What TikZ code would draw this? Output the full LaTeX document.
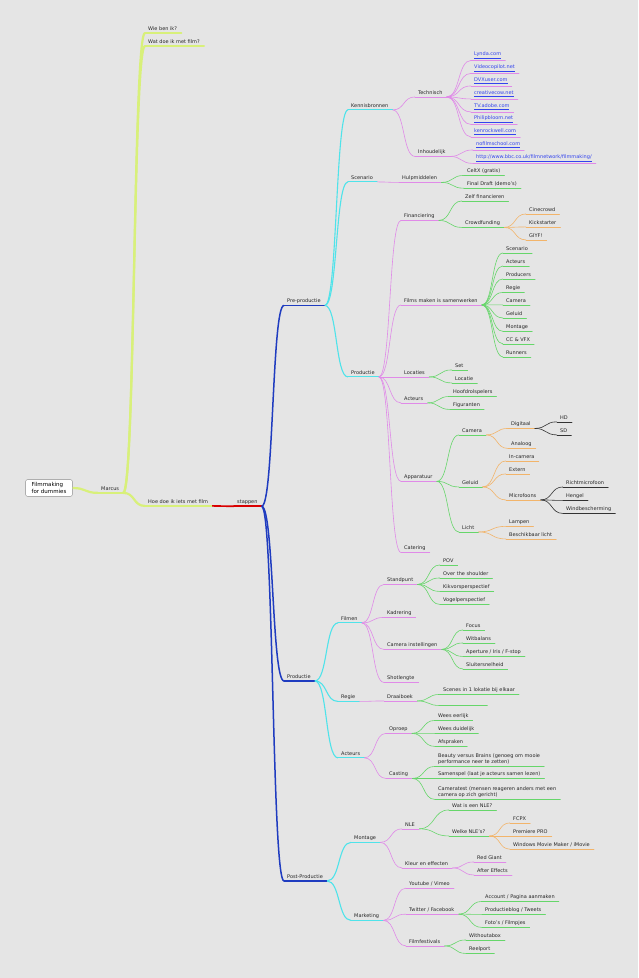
\documentclass[tikz,border=0pt]{standalone}
\usepackage{fontspec}
\setmainfont{DejaVu Sans}
\usetikzlibrary{calc}
\definecolor{cyn}{HTML}{4FE3EA}
\definecolor{blu}{HTML}{1F3CC0}
\definecolor{yel}{HTML}{D8F07A}
\definecolor{pnk}{HTML}{E08AE8}
\definecolor{grn}{HTML}{66D66A}
\definecolor{org}{HTML}{F2B46A}
\definecolor{lnk}{HTML}{3344EE}
\begin{document}
\begin{tikzpicture}[x=1pt,y=-1pt,
  lbl/.style={inner sep=0pt,anchor=west,font=\fontsize{5}{6}\selectfont,align=left,text=black!85},
  cY/.style={draw=yel,line width=2.2pt},
  cR/.style={draw=red!85!black,line width=1.6pt},
  cB/.style={draw=blu,line width=1.5pt},
  cC/.style={draw=cyn,line width=1.1pt},
  cP/.style={draw=pnk,line width=0.6pt},
  cG/.style={draw=grn,line width=0.6pt},
  cO/.style={draw=org,line width=0.6pt},
  cK/.style={draw=black!80,line width=0.6pt}]
\useasboundingbox[fill=black!10] (0,0) rectangle (638,978);
\newcommand\NN[6]{%
  \node[lbl] (#1) at (#3,#4) {#6};
  \coordinate (#1-s) at ([xshift=-3pt,yshift=-1.8pt]#1.south west);
  \coordinate (#1-e) at ([xshift=4pt,yshift=-1.8pt]#1.south east);
  \draw[#5] let \p1=(#2-e), \p2=(#1-s), \n1={(\x2-\x1)*0.55} in
    (#2-e) .. controls ([xshift=\n1]#2-e) and ([xshift=-\n1]#1-s) .. (#1-s);
  \draw[#5,line cap=round] (#1-s) -- (#1-e);}
\newcommand\LK[1]{\textcolor{lnk}{\underline{#1}}}
\node[draw=black!45,fill=white,rounded corners=2pt,inner xsep=6pt,inner ysep=3pt,align=left,font=\fontsize{5.5}{6.5}\selectfont] (root) at (49,488) {Filmmaking\\for dummies};
\coordinate (root-e) at (root.east);
\NN{marcus}{root}{101}{489}{cY}{Marcus}
\NN{wie}{marcus}{148}{29}{cY}{Wie ben ik?}
\NN{wat}{marcus}{148}{42}{cY}{Wat doe ik met film?}
\NN{hoe}{marcus}{148}{502}{cY}{Hoe doe ik iets met film}
\NN{stap}{hoe}{237}{502}{cR}{stappen}
% pre-productie
\NN{pre}{stap}{287}{301}{cB}{Pre-productie}
\NN{kb}{pre}{351}{106}{cC}{Kennisbronnen}
\NN{tech}{kb}{418}{93}{cP}{Technisch}
\NN{l1}{tech}{474}{55}{cP}{\LK{Lynda.com}}
\NN{l2}{tech}{474}{68}{cP}{\LK{Videocopilot.net}}
\NN{l3}{tech}{474}{81}{cP}{\LK{DVXuser.com}}
\NN{l4}{tech}{474}{94}{cP}{\LK{creativecow.net}}
\NN{l5}{tech}{474}{107}{cP}{\LK{TV.adobe.com}}
\NN{l6}{tech}{474}{119}{cP}{\LK{Philipbloom.net}}
\NN{l7}{tech}{474}{132}{cP}{\LK{kenrockwell.com}}
\NN{inh}{kb}{418}{152}{cP}{Inhoudelijk}
\NN{l8}{inh}{476}{145}{cP}{\LK{nofilmschool.com}}
\NN{l9}{inh}{476}{158}{cP}{\LK{http://www.bbc.co.uk/filmnetwork/filmmaking/}}
\NN{scen}{pre}{351}{178}{cC}{Scenario}
\NN{hulp}{scen}{402}{178}{cP}{Hulpmiddelen}
\NN{celtx}{hulp}{467}{171}{cG}{CeltX (gratis)}
\NN{fd}{hulp}{467}{184}{cG}{Final Draft (demo's)}
\NN{prod}{pre}{351}{373}{cC}{Productie}
\NN{fin}{prod}{404}{216}{cP}{Financiering}
\NN{zelf}{fin}{465}{197}{cG}{Zelf financieren}
\NN{crowd}{fin}{465}{223}{cG}{Crowdfunding}
\NN{cine}{crowd}{529}{210}{cO}{Cinecrowd}
\NN{kick}{crowd}{529}{223}{cO}{Kickstarter}
\NN{giyf}{crowd}{529}{236}{cO}{GIYF!}
\NN{sam}{prod}{404}{301}{cP}{Films maken is samenwerken}
\NN{s1}{sam}{506}{249}{cG}{Scenario}
\NN{s2}{sam}{506}{262}{cG}{Acteurs}
\NN{s3}{sam}{506}{275}{cG}{Producers}
\NN{s4}{sam}{506}{288}{cG}{Regie}
\NN{s5}{sam}{506}{301}{cG}{Camera}
\NN{s6}{sam}{506}{314}{cG}{Geluid}
\NN{s7}{sam}{506}{327}{cG}{Montage}
\NN{s8}{sam}{506}{340}{cG}{CC \& VFX}
\NN{s9}{sam}{506}{353}{cG}{Runners}
\NN{loc}{prod}{404}{373}{cP}{Locaties}
\NN{set}{loc}{455}{366}{cG}{Set}
\NN{locatie}{loc}{455}{379}{cG}{Locatie}
\NN{act}{prod}{404}{399}{cP}{Acteurs}
\NN{hoofd}{act}{453}{392}{cG}{Hoofdrolspelers}
\NN{fig}{act}{453}{405}{cG}{Figuranten}
\NN{app}{prod}{404}{477}{cP}{Apparatuur}
\NN{cam}{app}{462}{431}{cG}{Camera}
\NN{dig}{cam}{511}{424}{cO}{Digitaal}
\NN{hd}{dig}{560}{418}{cK}{HD}
\NN{sd}{dig}{560}{431}{cK}{SD}
\NN{ana}{cam}{511}{444}{cO}{Analoog}
\NN{gel}{app}{462}{483}{cG}{Geluid}
\NN{inc}{gel}{509}{457}{cO}{In-camera}
\NN{ext}{gel}{509}{470}{cO}{Extern}
\NN{mic}{gel}{509}{496}{cO}{Microfoons}
\NN{richt}{mic}{566}{483}{cK}{Richtmicrofoon}
\NN{heng}{mic}{566}{496}{cK}{Hengel}
\NN{wind}{mic}{566}{509}{cK}{Windbescherming}
\NN{licht}{app}{462}{528}{cG}{Licht}
\NN{lamp}{licht}{509}{522}{cO}{Lampen}
\NN{besch}{licht}{509}{535}{cO}{Beschikbaar licht}
\NN{cat}{prod}{404}{548}{cP}{Catering}
% productie
\NN{prod2}{stap}{287}{677}{cB}{Productie}
\NN{film}{prod2}{341}{619}{cC}{Filmen}
\NN{stand}{film}{387}{580}{cP}{Standpunt}
\NN{pov}{stand}{443}{561}{cG}{POV}
\NN{ots}{stand}{443}{574}{cG}{Over the shoulder}
\NN{kik}{stand}{443}{587}{cG}{Kikvorsperspectief}
\NN{vog}{stand}{443}{600}{cG}{Vogelperspectief}
\NN{kad}{film}{387}{613}{cP}{Kadrering}
\NN{ci}{film}{387}{645}{cP}{Camera instellingen}
\NN{foc}{ci}{466}{626}{cG}{Focus}
\NN{wit}{ci}{466}{639}{cG}{Witbalans}
\NN{ape}{ci}{466}{652}{cG}{Aperture / Iris / F-stop}
\NN{slu}{ci}{466}{665}{cG}{Sluitersnelheid}
\NN{shot}{film}{387}{678}{cP}{Shotlengte}
\NN{reg}{prod2}{341}{697}{cC}{Regie}
\NN{draai}{reg}{387}{697}{cP}{Draaiboek}
\NN{scn}{draai}{443}{690}{cG}{Scenes in 1 lokatie bij elkaar}
\NN{emp}{draai}{443}{703}{cG}{\hspace{40pt}}
\NN{act2}{prod2}{341}{754}{cC}{Acteurs}
\NN{opr}{act2}{389}{729}{cP}{Oproep}
\NN{we}{opr}{438}{716}{cG}{Wees eerlijk}
\NN{wd}{opr}{438}{729}{cG}{Wees duidelijk}
\NN{afs}{opr}{438}{742}{cG}{Afspraken}
\NN{cast}{act2}{389}{774}{cP}{Casting}
\NN{bea}{cast}{438}{759}{cG}{Beauty versus Brains (genoeg om mooie\\performance neer te zetten)}
\NN{samsp}{cast}{438}{774}{cG}{Samenspel (laat je acteurs samen lezen)}
\NN{camt}{cast}{438}{792}{cG}{Cameratest (mensen reageren anders met een\\camera op zich gericht)}
% post
\NN{post}{stap}{287}{877}{cB}{Post-Productie}
\NN{mont}{post}{354}{838}{cC}{Montage}
\NN{nle}{mont}{405}{825}{cP}{NLE}
\NN{wat2}{nle}{452}{806}{cG}{Wat is een NLE?}
\NN{welke}{nle}{452}{832}{cG}{Welke NLE's?}
\NN{fcpx}{welke}{513}{819}{cO}{FCPX}
\NN{prem}{welke}{513}{832}{cO}{Premiere PRO}
\NN{wmm}{welke}{513}{845}{cO}{Windows Movie Maker / iMovie}
\NN{kleur}{mont}{405}{864}{cP}{Kleur en effecten}
\NN{red}{kleur}{477}{858}{cP}{Red Giant}
\NN{ae}{kleur}{477}{871}{cP}{After Effects}
\NN{mark}{post}{354}{916}{cC}{Marketing}
\NN{yt}{mark}{409}{884}{cP}{Youtube / Vimeo}
\NN{tw}{mark}{409}{910}{cP}{Twitter / Facebook}
\NN{acc}{tw}{485}{897}{cG}{Account / Pagina aanmaken}
\NN{pb}{tw}{485}{910}{cG}{Productieblog / Tweets}
\NN{foto}{tw}{485}{923}{cG}{Foto's / Filmpjes}
\NN{ff}{mark}{409}{942}{cP}{Filmfestivals}
\NN{wob}{ff}{469}{936}{cG}{Withoutabox}
\NN{reel}{ff}{469}{949}{cG}{Reelport}
\end{tikzpicture}
\end{document}
